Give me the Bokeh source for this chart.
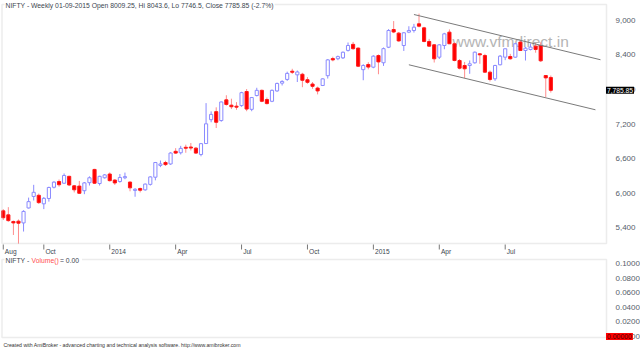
import datetime as dt
import numpy as np
from bokeh.plotting import figure
from bokeh.layouts import column
from bokeh.models import Range1d, Label, BoxAnnotation, ColumnDataSource
from bokeh.core.properties import value
from bokeh.embed import file_html
from bokeh.resources import INLINE

# ---------------- data (weekly NIFTY, Aug 2013 - Sep 2015) ----------------
first_week = dt.date(2013, 8, 9)
last_date = "01-09-2015"

opens = [5690, 5620, 5505, 5510, 5480, 5740, 5940, 5960, 5812, 5905, 6100, 6200, 6170, 6290, 6125, 6120, 6040, 6180, 6410, 6165,
         6265, 6330, 6225, 6200, 6265, 6190, 6045, 6078, 6055, 6150, 6275, 6480, 6530, 6505, 6725, 6700, 6795, 6800, 6780, 6670,
         6860, 7275, 7415, 7260, 7620, 7527, 7510, 7520, 7765, 7455, 7695, 7785, 7625, 7595, 7775, 7910, 7975, 8118, 8055, 8065,
         7970, 7895, 7825, 7870, 8040, 8337, 8335, 8350, 8480, 8585, 8520, 8145, 8235, 8188, 8390, 8265, 8535, 8843, 8780, 8565,
         8797, 8826, 8942, 8872, 8635, 8577, 8362, 8565, 8797, 8595, 8304, 8217, 8217, 8264, 8420, 8391, 8101, 7986, 8230, 8362,
         8374, 8362, 8624, 8478, 8496, 8554, 8565, 8043, 8009.25]
highs = [5720, 5754, 5520, 5540, 5700, 5920, 6142, 5990, 5930, 6110, 6205, 6235, 6340, 6300, 6140, 6210, 6190, 6290, 6420, 6300,
         6330, 6358, 6240, 6330, 6355, 6200, 6085, 6095, 6165, 6290, 6540, 6565, 6560, 6710, 6780, 6820, 6840, 6870, 6800, 6870,
         7563, 7420, 7490, 7590, 7700, 7640, 7580, 7760, 7808, 7670, 7830, 7800, 7660, 7800, 7920, 7960, 8110, 8160, 8130, 8090,
         8015, 7930, 7850, 7995, 8330, 8370, 8390, 8460, 8617, 8627, 8530, 8240, 8275, 8395, 8410, 8530, 8850, 8990, 8800, 8800,
         8900, 8941, 9119, 8890, 8680, 8590, 8590, 8785, 8845, 8620, 8330, 8280, 8305, 8460, 8430, 8420, 8130, 8230, 8400, 8510,
         8420, 8610, 8650, 8540, 8600, 8610, 8621, 8050, 8043.6]
lows = [5530, 5500, 5270, 5118, 5330, 5730, 5870, 5810, 5720, 5850, 6080, 6110, 6160, 6120, 6010, 5985, 5980, 6130, 6160, 6130,
        6250, 6200, 6140, 6180, 6240, 6030, 5935, 6010, 6040, 6130, 6220, 6450, 6470, 6490, 6680, 6670, 6700, 6740, 6680, 6638,
        6860, 7230, 7130, 7240, 7520, 7460, 7447, 7500, 7422, 7422, 7680, 7580, 7540, 7580, 7760, 7870, 7950, 8070, 7930, 7840,
        7900, 7812, 7715, 7860, 7990, 8290, 8310, 8330, 8460, 8490, 8190, 7961, 8150, 8170, 8065, 8210, 8520, 8780, 8630, 8470,
        8780, 8790, 8880, 8620, 8540, 8269, 8330, 8500, 8590, 8290, 8150, 7997, 8073, 8250, 8247, 8090, 7940, 7950, 8220, 8310,
        8320, 8350, 8470, 8304, 8480, 8440, 8280, 7667, 7746.5]
closes = [5570, 5520, 5480, 5475, 5680, 5850, 6012, 5833, 5907, 6096, 6189, 6144, 6305, 6140, 6056, 5995, 6176, 6265, 6170, 6290,
          6315, 6215, 6175, 6270, 6285, 6090, 6065, 6048, 6155, 6280, 6530, 6505, 6494, 6695, 6694, 6776, 6779, 6782, 6694, 6858,
          7203, 7367, 7230, 7583, 7540, 7500, 7493, 7745, 7460, 7660, 7785, 7595, 7555, 7785, 7905, 7940, 8080, 8100, 8105, 7960,
          7925, 7855, 7775, 7985, 8315, 8315, 8372, 8448, 8565, 8510, 8205, 8217, 8190, 8380, 8280, 8510, 8826, 8800, 8645, 8786,
          8826, 8884, 8901, 8635, 8554, 8334, 8577, 8768, 8595, 8304, 8171, 8160, 8247, 8449, 8403, 8101, 7974, 8217, 8380, 8508,
          8334, 8595, 8478, 8519, 8537, 8496, 8299, 8001.95, 7785.85]
volumes = [0.0] * len(closes)

price_ticks = [5400, 6000, 6600, 7200, 7800, 8400, 9000]
volume_ticks = [0.0, 0.02, 0.04, 0.06, 0.08, 0.10]
x_tick_labels = ["Aug", "Oct", "2014", "Apr", "Jul", "Oct", "2015", "Apr", "Jul"]

# hand-drawn trend channel (bar index, price)
channel_x0 = [81.0, 80.0]
channel_y0 = [9104, 8230]
channel_x1 = [117.8, 116.8]
channel_y1 = [8317, 7447]

# ---------------- layout constants (pixels) ----------------
FONT = "Liberation Sans"
W = 640
H_MAIN, H_VOL = 257, 91
PANE_L, PANE_R = 1.5, 606        # pane border, x
MAIN_TOP, MAIN_BOT = 4, 243      # price pane border, y
VOL_TOP, VOL_BOT = 259, 337      # volume pane border, absolute y
X0 = -0.25                       # bar index at the left pane border
PPB = 5.07                       # pixels per bar
Y_LO, Y_HI = 5122, 9278          # price at pane bottom / top
V_PIX_HI, V_PIX_LO = 263.3, 336.0  # absolute y of 0.10 and 0.00
LABEL_X = 615
AXIS_COL = "#56606a"
TEXT_COL = "#3c4650"
BORDER_COL = "#c0c0c0"

def px_x(px):
    return X0 + (px - PANE_L) / PPB

def px_y(py):
    return Y_HI - (py - MAIN_TOP) * (Y_HI - Y_LO) / (MAIN_BOT - MAIN_TOP)

def px_v(py_abs):
    return volume_ticks[-1] * (V_PIX_LO - py_abs) / (V_PIX_LO - V_PIX_HI)

n = len(closes)
idx = np.arange(n)
o = np.array(opens, float); h = np.array(highs, float)
l = np.array(lows, float); c = np.array(closes, float)
up = c >= o

dates = [first_week + dt.timedelta(days=7 * i) for i in range(n)]
tick_pos = [0] + [i for i in range(1, n)
                  if dates[i].month != dates[i - 1].month and dates[i].month in (1, 4, 7, 10)]

def base_fig(height, y_range):
    f = figure(width=W, height=height, x_range=Range1d(px_x(0), px_x(W)), y_range=y_range,
               output_backend="svg", toolbar_location=None,
               x_axis_location=None, y_axis_location=None,
               min_border=0, min_border_left=0, min_border_right=0,
               min_border_top=0, min_border_bottom=0)
    f.grid.visible = False
    f.outline_line_color = None
    f.background_fill_color = "white"
    f.border_fill_color = "white"
    return f

# ---------------- main price pane ----------------
p = base_fig(H_MAIN, Range1d(px_y(H_MAIN), px_y(0)))

p.add_layout(Label(x=px_x(452), y=px_y(41), text="www.vfmdirect.in", text_font=FONT, text_font_size="15.5px",
                   text_color="#b4b4b4", text_baseline="alphabetic", level="underlay"))

up_src = ColumnDataSource(dict(x=idx[up], lo=l[up], hi=h[up], top=c[up], bot=o[up]))
dn_src = ColumnDataSource(dict(x=idx[~up], lo=l[~up], hi=h[~up], top=o[~up], bot=c[~up]))

p.segment(x0="x", y0="lo", x1="x", y1="hi", source=up_src, line_color="#8a8aff", line_width=1)
p.vbar(x="x", width=0.62, top="top", bottom="bot", source=up_src,
       fill_color="white", line_color="#8a8aff", line_width=1)
p.segment(x0="x", y0="lo", x1="x", y1="hi", source=dn_src, line_color="#ff8c8c", line_width=1)
p.vbar(x="x", width=0.62, top="top", bottom="bot", source=dn_src,
       fill_color="#ff0000", line_color="#ff1a1a", line_width=1)

p.segment(x0=channel_x0, y0=channel_y0, x1=channel_x1, y1=channel_y1,
          line_color="#7a7a7a", line_width=1)

# pane border
p.add_layout(BoxAnnotation(left=px_x(PANE_L), right=px_x(PANE_R), top=px_y(MAIN_TOP), bottom=px_y(MAIN_BOT),
                           fill_alpha=0, line_color=BORDER_COL, line_width=1.5))

# right price scale
p.text(x=[px_x(LABEL_X)] * len(price_ticks), y=price_ticks, text=[f"{t:,}" for t in price_ticks],
       text_font=value(FONT), text_font_size=value("8px"), text_color=AXIS_COL,
       text_align="left", text_baseline="middle")

# date scale: tick marks + labels
p.segment(x0=tick_pos, y0=[px_y(MAIN_BOT + 1)] * len(tick_pos), x1=tick_pos, y1=[px_y(MAIN_BOT + 6)] * len(tick_pos),
          line_color="#777777", line_width=1)
p.text(x=[t + 1.6 / PPB for t in tick_pos], y=[px_y(251)] * len(tick_pos), text=x_tick_labels,
       text_font=value(FONT), text_font_size=value("6.6px"), text_color=TEXT_COL,
       text_align="left", text_baseline="middle")

pct = (c[-1] / c[-2] - 1) * 100
title = (f"NIFTY - Weekly {last_date} Open {o[-1]:g}, Hi {h[-1]:g}, Lo {l[-1]:g}, "
         f"Close {c[-1]:g} ({pct:.1f}%)")
p.add_layout(Label(x=px_x(4), y=px_y(MAIN_TOP + 0.5), text=title, text_font=FONT, text_font_size="6.8px",
                   text_color=TEXT_COL, text_align="left", text_baseline="middle",
                   background_fill_color="white", padding=1))

p.add_layout(Label(x=px_x(PANE_R - 0.5), y=c[-1], text=f"{c[-1]:,.2f}", text_font=FONT, text_font_size="6.7px",
                   text_color="white", text_align="left", text_baseline="middle",
                   background_fill_color="black", padding=1))

# ---------------- volume pane ----------------
v = base_fig(H_VOL, Range1d(px_v(H_MAIN + H_VOL), px_v(H_MAIN)))

v.vbar(x=list(idx), top=volumes, bottom=0, width=0.62, fill_color="#8a8aff", line_color=None)
v.add_layout(BoxAnnotation(left=px_x(PANE_L), right=px_x(PANE_R), top=px_v(VOL_TOP), bottom=px_v(VOL_BOT),
                           fill_alpha=0, line_color=BORDER_COL, line_width=1.5))

v.text(x=[px_x(LABEL_X)] * len(volume_ticks), y=volume_ticks, text=[f"{t:.4f}" for t in volume_ticks],
       text_font=value(FONT), text_font_size=value("8px"), text_color=AXIS_COL,
       text_align="left", text_baseline="middle")

vt_y = px_v(VOL_TOP + 0.5)
v.add_layout(Label(x=px_x(4), y=vt_y, text="NIFTY - ", text_font=FONT, text_font_size="6.8px",
                   text_color=TEXT_COL, text_align="left", text_baseline="middle",
                   background_fill_color="white", padding=1))
v.add_layout(Label(x=px_x(31), y=vt_y, text="Volume()", text_font=FONT, text_font_size="6.8px",
                   text_color="#ff5050", text_align="left", text_baseline="middle",
                   background_fill_color="white", padding=0))
v.add_layout(Label(x=px_x(58.5), y=vt_y, text=f" = {volumes[-1]:.2f}", text_font=FONT, text_font_size="6.8px",
                   text_color=TEXT_COL, text_align="left", text_baseline="middle",
                   background_fill_color="white", padding=1))

v.add_layout(Label(x=px_x(PANE_R - 0.5), y=volumes[-1], text=f"{volumes[-1]:.5f}", text_font=FONT, text_font_size="6.9px",
                   text_color="#500000", text_align="left", text_baseline="middle",
                   background_fill_color="#ff0000", padding=1))

v.add_layout(Label(x=px_x(3), y=px_v(344), text="Created with AmiBroker - advanced charting and technical analysis software. http://www.amibroker.com",
                   text_font=FONT, text_font_size="5.2px", text_color="#333333",
                   text_align="left", text_baseline="middle"))

layout = column(p, v, spacing=0)
open("out.html", "w").write(file_html(layout, INLINE))
